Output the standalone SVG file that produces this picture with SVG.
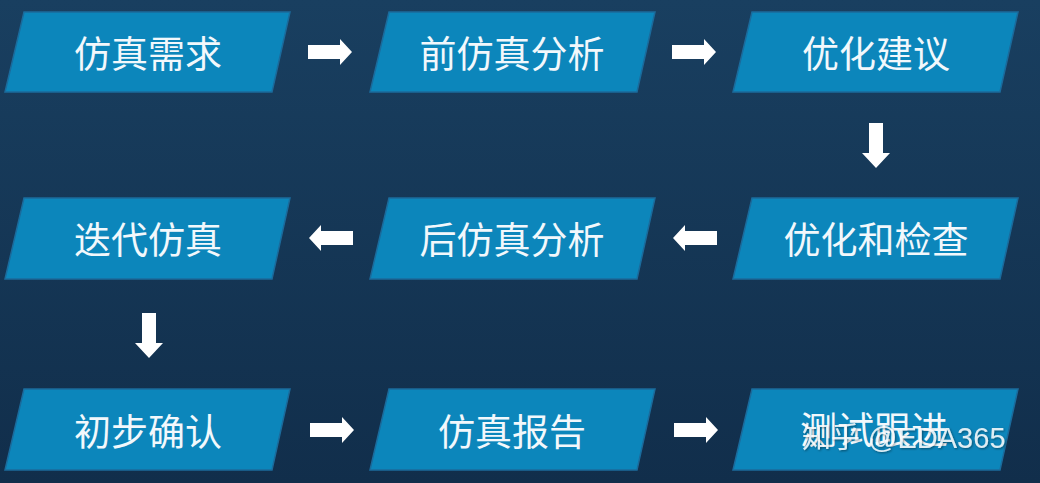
<svg xmlns="http://www.w3.org/2000/svg" width="1040" height="483" viewBox="0 0 1040 483">
<defs>
<linearGradient id="bg" x1="0" y1="0" x2="0" y2="1">
<stop offset="0" stop-color="#193f60"/>
<stop offset="1" stop-color="#112e4b"/>
</linearGradient>
<filter id="sh" x="-10%" y="-30%" width="120%" height="160%">
<feDropShadow dx="1" dy="1" stdDeviation="1" flood-color="#000" flood-opacity="0.5"/>
</filter>
<style>
.node{fill:#0c86bb;stroke:#1b6b9c;stroke-width:1.5}
.lbl{fill:#f2f8fc;font-family:"Noto Sans CJK SC","Noto Sans",sans-serif;font-size:37px;text-anchor:middle;dominant-baseline:central}
.arr{fill:#ffffff}
.wm{fill:#ffffff;fill-opacity:0.85;font-family:"Liberation Sans","Noto Sans CJK SC",sans-serif;font-size:29px}
</style>
<path id="ar" d="M0,-7 H32 V-13 L44,0 L32,13 V7 H0 Z"/>
<path id="ad" d="M-7,0 V30 H-14 L0,45 L14,30 H7 V0 Z"/>
</defs>
<rect width="1040" height="483" fill="url(#bg)"/>
<g id="n1"><polygon class="node" points="24,12 290,12 272,92 5,92"/><text class="lbl" x="148" y="52">仿真需求</text></g>
<g id="n2"><polygon class="node" points="389,12 655,12 637,92 370,92"/><text class="lbl" x="512" y="52">前仿真分析</text></g>
<g id="n3"><polygon class="node" points="752,12 1018,12 1000,92 733,92"/><text class="lbl" x="876" y="52">优化建议</text></g>
<g id="n4"><polygon class="node" points="752,198 1018,198 1000,279 733,279"/><text class="lbl" x="876" y="238">优化和检查</text></g>
<g id="n5"><polygon class="node" points="389,198 655,198 637,279 370,279"/><text class="lbl" x="512" y="238">后仿真分析</text></g>
<g id="n6"><polygon class="node" points="24,198 290,198 272,279 5,279"/><text class="lbl" x="148" y="238">迭代仿真</text></g>
<g id="n7"><polygon class="node" points="24,389 290,389 272,470 5,470"/><text class="lbl" x="148" y="430">初步确认</text></g>
<g id="n8"><polygon class="node" points="389,389 655,389 637,470 370,470"/><text class="lbl" x="512" y="430">仿真报告</text></g>
<g id="n9"><polygon class="node" points="752,389 1018,389 1000,470 733,470"/><text class="lbl" x="874" y="428">测试跟进</text></g>
<g id="connectors" class="arr">
<use href="#ar" transform="translate(308,52)"/>
<use href="#ar" transform="translate(672,52)"/>
<use href="#ad" transform="translate(876,123)"/>
<use href="#ar" transform="translate(717,238) scale(-1,1)"/>
<use href="#ar" transform="translate(353,238) scale(-1,1)"/>
<use href="#ad" transform="translate(149,313)"/>
<use href="#ar" transform="translate(310,430)"/>
<use href="#ar" transform="translate(674,430)"/>
</g>
<text class="wm" x="802" y="448" filter="url(#sh)">知乎 @EDA365</text>
</svg>
